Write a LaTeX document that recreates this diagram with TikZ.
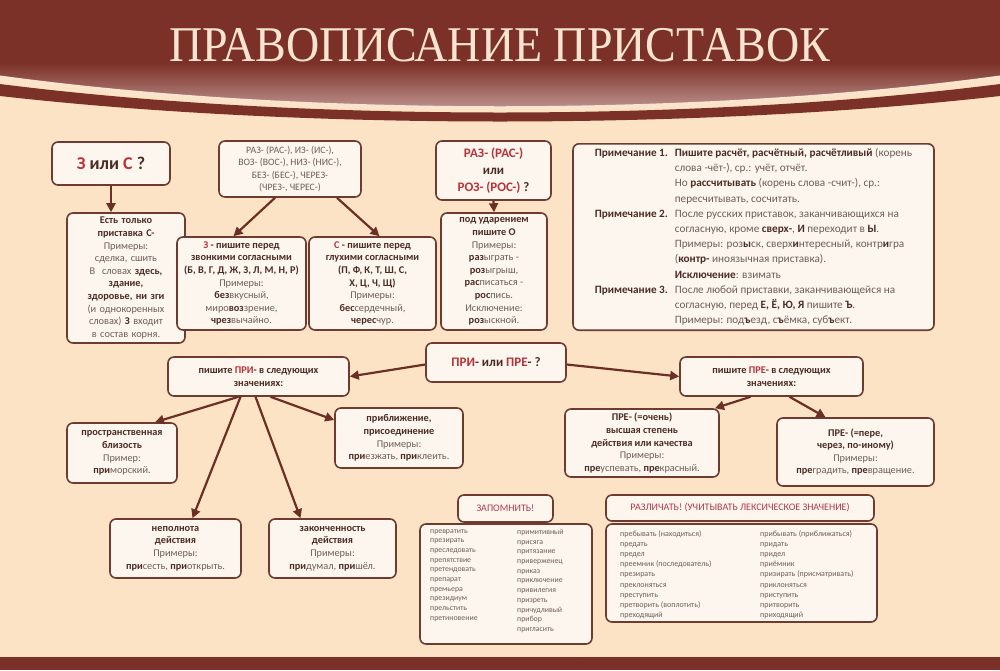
\documentclass[tikz,border=0pt]{standalone}
\usepackage{fontspec}
\setmainfont{Carlito}
\newfontfamily\titlefont{Liberation Serif}
\usetikzlibrary{arrows.meta}
\definecolor{hdr}{HTML}{7B3128}
\definecolor{hdrlight}{HTML}{C9A3A0}
\definecolor{bg}{HTML}{FDE3C6}
\definecolor{bord}{HTML}{6E3B30}
\definecolor{boxfill}{HTML}{FDF6EE}
\definecolor{arrc}{HTML}{6B3025}
\definecolor{dk}{HTML}{4A2C25}
\definecolor{gtx}{HTML}{6D5E58}
\definecolor{redc}{HTML}{B8323A}
\definecolor{pinkt}{HTML}{B0394A}
\definecolor{cream}{HTML}{F8E4CF}
\newcommand\rd[1]{\textcolor{redc}{#1}}
\newcommand\bb[1]{\textbf{\color{dk}#1}}
\tikzset{
  box/.style={draw=bord, fill=boxfill, rounded corners=6pt, line width=1.6pt, align=center, inner sep=2pt, text=gtx},
  arr/.style={-{Triangle[length=9pt,width=9pt]}, line width=2.2pt, draw=arrc},
  sm/.style={font=\fontsize{10.3}{12.6}\selectfont},
  lst/.style={align=left, text=gtx, inner sep=0pt, font=\fontsize{7.8}{9.7}\selectfont}
}
\begin{document}
\begin{tikzpicture}[x=1pt,y=-1pt]
\useasboundingbox (0,0) rectangle (1000,670);
\fill[bg] (0,0) rectangle (1000,670);
% header
\fill[hdr] (0,0) rectangle (1000,64);
\shade[top color=hdr, bottom color=hdrlight] (0,63) -- (1000,63) -- (1000,76) .. controls (700,117) and (300,117) .. (0,76) -- cycle;
\draw[cream, line width=3pt] (0,77) .. controls (300,118) and (700,118) .. (1000,77);
\fill[hdr] (0,84) .. controls (300,122) and (700,122) .. (1000,84) -- (1000,96) .. controls (700,130) and (300,130) .. (0,96) -- cycle;
\fill[hdr] (0,657) rectangle (1000,670);
\node[text=cream, inner sep=0pt] (title) at (500,45) {\scalebox{0.92}[1]{\titlefont\fontsize{50}{52}\selectfont ПРАВОПИСАНИЕ ПРИСТАВОК}};

% top-left
\node[box, minimum width=118pt, minimum height=43pt, font=\fontsize{18}{20}\selectfont\bfseries, text=dk] (zc) at (111,163.5) {\rd{З} или \rd{С} ?};
\node[box, sm, minimum width=118pt, minimum height=130pt, text width=114pt] (left) at (126,278) {\bb{Есть только}\\ \bb{приставка С-}\\ Примеры:\\ сделка, сшить\\ В~ словах \bb{здесь,}\\ \bb{здание,}\\ \bb{здоровье, ни зги}\\ (и однокоренных\\ словах) \bb{З} входит\\ в состав корня.};
\node[box, font=\fontsize{9.8}{12.2}\selectfont, minimum width=142pt, minimum height=56pt] (rlist) at (290,169) {РАЗ- (РАС-), ИЗ- (ИС-),\\ ВОЗ- (ВОС-), НИЗ- (НИС-),\\ БЕЗ- (БЕС-), ЧЕРЕЗ-\\ (ЧРЕЗ-, ЧЕРЕС-)};
\node[box, sm, minimum width=129pt, minimum height=93pt] (zbox) at (241.5,283.5) {\bb{\rd{З} - пишите перед}\\ \bb{звонкими согласными}\\ \bb{(Б, В, Г, Д, Ж, З, Л, М, Н, Р)}\\ Примеры:\\ \bb{без}вкусный,\\ миро\bb{воз}зрение,\\ \bb{чрез}вычайно.};
\node[box, sm, minimum width=127pt, minimum height=93pt] (sbox) at (372.5,283.5) {\bb{\rd{С} - пишите перед}\\ \bb{глухими согласными}\\ \bb{(П, Ф, К, Т, Ш, С,}\\ \bb{Х, Ц, Ч, Щ)}\\ Примеры:\\ \bb{бес}сердечный,\\ \bb{черес}чур.};
\node[box, font=\fontsize{13}{17}\selectfont\bfseries, text=dk, minimum width=115pt, minimum height=59pt] (razroz) at (493.5,170.5) {\rd{РАЗ- (РАС-)}\\ или\\ \rd{РОЗ- (РОС-)} ?};
\node[box, sm, minimum width=106pt, minimum height=117pt] (udar) at (494,271.5) {\bb{под ударением}\\ \bb{пишите О}\\ Примеры:\\ \bb{раз}ыграть -\\ \bb{роз}ыгрыш,\\ \bb{рас}писаться -\\ \bb{рос}пись.\\ Исключение:\\ \bb{роз}ыскной.};
\node[box, minimum width=361pt, minimum height=180pt, align=left, font=\fontsize{11.2}{15.2}\selectfont] (prim) at (753.5,237) {%
\begin{tabular}{@{}r@{\hspace{7pt}}l@{}}
\bb{Примечание 1.} & \bb{Пишите расчёт, расчётный, расчётливый} (корень\\
 & слова -чёт-), ср.: учёт, отчёт.\\
 & Но \bb{рассчитывать} (корень слова -счит-), ср.:\\
 & пересчитывать, сосчитать.\\
\bb{Примечание 2.} & После русских приставок, заканчивающихся на\\
 & согласную, кроме \bb{сверх-}, \bb{И} переходит в \bb{Ы}.\\
 & Примеры: роз\bb{ы}ск, сверх\bb{и}нтересный, контр\bb{и}гра\\
 & (\bb{контр-} иноязычная приставка).\\
 & \bb{Исключение}: взимать\\
\bb{Примечание 3.} & После любой приставки, заканчивающейся на\\
 & согласную, перед \bb{Е, Ё, Ю, Я} пишите \bb{Ъ}.\\
 & Примеры: под\bb{ъ}езд, с\bb{ъ}ёмка, суб\bb{ъ}ект.
\end{tabular}};

% ПРИ / ПРЕ
\node[box, font=\fontsize{13}{15}\selectfont\bfseries, text=dk, minimum width=140pt, minimum height=39pt] (pripre) at (496,362.5) {\rd{ПРИ}- или \rd{ПРЕ}- ?};
\node[box, sm, minimum width=181pt, minimum height=39pt] (pishpri) at (258.5,376.5) {\bb{пишите \rd{ПРИ}- в следующих}\\ \bb{значениях:}};
\node[box, sm, minimum width=183pt, minimum height=39pt] (pishpre) at (771.5,376.5) {\bb{пишите \rd{ПРЕ}- в следующих}\\ \bb{значениях:}};
\node[box, sm, minimum width=110pt, minimum height=60pt] (prostr) at (122,453) {\bb{пространственная}\\ \bb{близость}\\ Пример:\\ \bb{при}морский.};
\node[box, sm, minimum width=128pt, minimum height=60pt] (pribl) at (399,438) {\bb{приближение,}\\ \bb{присоединение}\\ Примеры:\\ \bb{при}езжать, \bb{при}клеить.};
\node[box, sm, minimum width=131pt, minimum height=59pt] (nepol) at (175.5,548.5) {\bb{неполнота}\\ \bb{действия}\\ Примеры:\\ \bb{при}сесть, \bb{при}открыть.};
\node[box, sm, minimum width=127pt, minimum height=59pt] (zakon) at (332.5,548.5) {\bb{законченность}\\ \bb{действия}\\ Примеры:\\ \bb{при}думал, \bb{при}шёл.};
\node[box, sm, minimum width=154pt, minimum height=68pt] (preoch) at (642,443) {\bb{ПРЕ- (=очень)}\\ \bb{высшая степень}\\ \bb{действия или качества}\\ Примеры:\\ \bb{пре}успевать, \bb{пре}красный.};
\node[box, sm, minimum width=157pt, minimum height=68pt] (prepere) at (855.5,452) {\bb{ПРЕ- (=пере,}\\ \bb{через, по-иному)}\\ Примеры:\\ \bb{пре}градить, \bb{пре}вращение.};

% lists
\node[box, text=pinkt, font=\fontsize{10}{10}\selectfont, minimum width=95pt, minimum height=27pt] (zaph) at (505.5,508.5) {ЗАПОМНИТЬ!};
\node[box, minimum width=172pt, minimum height=120pt] (zapl) at (506,584) {};
\node[lst, anchor=north west] (zapc1) at (430,529) {превратить\\ презирать\\ преследовать\\ препятствие\\ претендовать\\ препарат\\ премьера\\ президиум\\ прельстить\\ претиновение};
\node[lst, anchor=north west] (zapc2) at (517,529) {примитивный\\ присяга\\ притязание\\ приверженец\\ приказ\\ приключение\\ привилегия\\ призреть\\ причудливый\\ прибор\\ пригласить};
\node[box, text=pinkt, font=\fontsize{10}{10}\selectfont, minimum width=268pt, minimum height=26pt] (razh) at (740,508) {РАЗЛИЧАТЬ! (УЧИТЫВАТЬ ЛЕКСИЧЕСКОЕ ЗНАЧЕНИЕ)};
\node[box, minimum width=271pt, minimum height=98pt] (razl) at (741.5,573) {};
\node[lst, anchor=north west, font=\fontsize{8}{10.2}\selectfont] (razc1) at (620,530) {пребывать (находиться)\\ предать\\ предел\\ преемник (последователь)\\ презирать\\ преклоняться\\ преступить\\ претворить (воплотить)\\ преходящий};
\node[lst, anchor=north west, font=\fontsize{8}{10.2}\selectfont] (razc2) at (760,530) {прибывать (приближаться)\\ придать\\ придел\\ приёмник\\ призирать (присматривать)\\ приклоняться\\ приступить\\ притворить\\ приходящий};

% arrows
\draw[arr] (zc.south) -- (zc.south |- left.north);
\draw[arr] ([xshift=-15pt]rlist.south) -- ([xshift=-8pt]zbox.north);
\draw[arr] ([xshift=47pt]rlist.south) -- ([xshift=7pt]sbox.north);
\draw[arr] (razroz.south) -- (udar.north);
\draw[arr] ([yshift=-2pt]pripre.west) -- (pishpri.east);
\draw[arr] ([yshift=-2pt]pripre.east) -- (pishpre.west);
\draw[arr] ([xshift=-20pt]pishpri.south) -- ([xshift=33pt]prostr.north);
\draw[arr] ([xshift=-18pt]pishpri.south) -- ([xshift=17pt]nepol.north);
\draw[arr] ([xshift=-3pt]pishpri.south) -- ([xshift=-32pt]zakon.north);
\draw[arr] ([xshift=12pt]pishpri.south) -- ([yshift=18pt]pribl.west);
\draw[arr] ([xshift=-21pt]pishpre.south) -- ([xshift=73pt]preoch.north);
\draw[arr] ([xshift=18pt]pishpre.south) -- ([xshift=-30pt]prepere.north);
\end{tikzpicture}
\end{document}
